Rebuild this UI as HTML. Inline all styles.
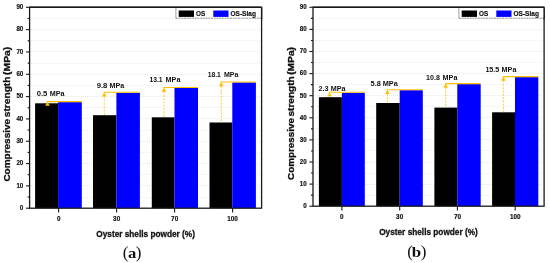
<!DOCTYPE html>
<html lang="en"><head><meta charset="utf-8"><title>Compressive strength</title>
<style>
html,body{margin:0;padding:0;background:#fff;}
svg{display:block;}
svg text{font-family:'Liberation Sans', Arial, sans-serif;fill:#111;}
svg .b{stroke:#111;stroke-width:0.2px;}
svg .c{stroke:#111;stroke-width:0.3px;}
</style></head>
<body>
<svg width="550" height="263" viewBox="0 0 550 263">
<rect width="550" height="263" fill="#fff"/>
<line x1="31" x2="260.6" y1="197.5" y2="197.5" stroke="#ededed" stroke-width="1" stroke-dasharray="1 1"/>
<line x1="31" x2="260.6" y1="185.5" y2="185.5" stroke="#e8e8e8" stroke-width="1" stroke-dasharray="1 1"/>
<line x1="31" x2="260.6" y1="174.5" y2="174.5" stroke="#ededed" stroke-width="1" stroke-dasharray="1 1"/>
<line x1="31" x2="260.6" y1="163.5" y2="163.5" stroke="#e8e8e8" stroke-width="1" stroke-dasharray="1 1"/>
<line x1="31" x2="260.6" y1="152.5" y2="152.5" stroke="#ededed" stroke-width="1" stroke-dasharray="1 1"/>
<line x1="31" x2="260.6" y1="141.5" y2="141.5" stroke="#e8e8e8" stroke-width="1" stroke-dasharray="1 1"/>
<line x1="31" x2="260.6" y1="130.5" y2="130.5" stroke="#ededed" stroke-width="1" stroke-dasharray="1 1"/>
<line x1="31" x2="260.6" y1="118.5" y2="118.5" stroke="#e8e8e8" stroke-width="1" stroke-dasharray="1 1"/>
<line x1="31" x2="260.6" y1="107.5" y2="107.5" stroke="#ededed" stroke-width="1" stroke-dasharray="1 1"/>
<line x1="31" x2="260.6" y1="96.5" y2="96.5" stroke="#e8e8e8" stroke-width="1" stroke-dasharray="1 1"/>
<line x1="31" x2="260.6" y1="85.5" y2="85.5" stroke="#ededed" stroke-width="1" stroke-dasharray="1 1"/>
<line x1="31" x2="260.6" y1="74.5" y2="74.5" stroke="#e8e8e8" stroke-width="1" stroke-dasharray="1 1"/>
<line x1="31" x2="260.6" y1="63.5" y2="63.5" stroke="#ededed" stroke-width="1" stroke-dasharray="1 1"/>
<line x1="31" x2="260.6" y1="51.5" y2="51.5" stroke="#e8e8e8" stroke-width="1" stroke-dasharray="1 1"/>
<line x1="31" x2="260.6" y1="40.5" y2="40.5" stroke="#ededed" stroke-width="1" stroke-dasharray="1 1"/>
<line x1="31" x2="260.6" y1="29.5" y2="29.5" stroke="#e8e8e8" stroke-width="1" stroke-dasharray="1 1"/>
<line x1="31" x2="260.6" y1="18.5" y2="18.5" stroke="#ededed" stroke-width="1" stroke-dasharray="1 1"/>
<rect x="35.1" y="103.3" width="23.0" height="104.9" fill="#000000"/>
<rect x="58.1" y="102.1" width="23.7" height="106.1" fill="#0000ff"/>
<rect x="93.0" y="115.2" width="23.4" height="93.0" fill="#000000"/>
<rect x="116.4" y="92.8" width="23.5" height="115.4" fill="#0000ff"/>
<rect x="151.8" y="117.3" width="22.7" height="90.9" fill="#000000"/>
<rect x="174.5" y="88.0" width="23.5" height="120.2" fill="#0000ff"/>
<rect x="209.5" y="122.5" width="22.8" height="85.7" fill="#000000"/>
<rect x="232.3" y="82.5" width="23.6" height="125.7" fill="#0000ff"/>
<rect x="29.6" y="7.3" width="232.0" height="200.9" fill="none" stroke="#1a1a1a" stroke-width="1.3"/>
<line x1="26.0" x2="29.6" y1="208.20" y2="208.20" stroke="#1a1a1a" stroke-width="1.1"/>
<line x1="27.6" x2="29.6" y1="197.04" y2="197.04" stroke="#1a1a1a" stroke-width="1.1"/>
<line x1="26.0" x2="29.6" y1="185.88" y2="185.88" stroke="#1a1a1a" stroke-width="1.1"/>
<line x1="27.6" x2="29.6" y1="174.72" y2="174.72" stroke="#1a1a1a" stroke-width="1.1"/>
<line x1="26.0" x2="29.6" y1="163.56" y2="163.56" stroke="#1a1a1a" stroke-width="1.1"/>
<line x1="27.6" x2="29.6" y1="152.39" y2="152.39" stroke="#1a1a1a" stroke-width="1.1"/>
<line x1="26.0" x2="29.6" y1="141.23" y2="141.23" stroke="#1a1a1a" stroke-width="1.1"/>
<line x1="27.6" x2="29.6" y1="130.07" y2="130.07" stroke="#1a1a1a" stroke-width="1.1"/>
<line x1="26.0" x2="29.6" y1="118.91" y2="118.91" stroke="#1a1a1a" stroke-width="1.1"/>
<line x1="27.6" x2="29.6" y1="107.75" y2="107.75" stroke="#1a1a1a" stroke-width="1.1"/>
<line x1="26.0" x2="29.6" y1="96.59" y2="96.59" stroke="#1a1a1a" stroke-width="1.1"/>
<line x1="27.6" x2="29.6" y1="85.43" y2="85.43" stroke="#1a1a1a" stroke-width="1.1"/>
<line x1="26.0" x2="29.6" y1="74.27" y2="74.27" stroke="#1a1a1a" stroke-width="1.1"/>
<line x1="27.6" x2="29.6" y1="63.11" y2="63.11" stroke="#1a1a1a" stroke-width="1.1"/>
<line x1="26.0" x2="29.6" y1="51.94" y2="51.94" stroke="#1a1a1a" stroke-width="1.1"/>
<line x1="27.6" x2="29.6" y1="40.78" y2="40.78" stroke="#1a1a1a" stroke-width="1.1"/>
<line x1="26.0" x2="29.6" y1="29.62" y2="29.62" stroke="#1a1a1a" stroke-width="1.1"/>
<line x1="27.6" x2="29.6" y1="18.46" y2="18.46" stroke="#1a1a1a" stroke-width="1.1"/>
<line x1="26.0" x2="29.6" y1="7.30" y2="7.30" stroke="#1a1a1a" stroke-width="1.1"/>
<text class="b" x="23.3" y="210.05" text-anchor="end" font-size="7.6" font-weight="bold" textLength="3.5" lengthAdjust="spacingAndGlyphs">0</text>
<text class="b" x="23.3" y="187.73" text-anchor="end" font-size="7.6" font-weight="bold" textLength="6.9" lengthAdjust="spacingAndGlyphs">10</text>
<text class="b" x="23.3" y="165.41" text-anchor="end" font-size="7.6" font-weight="bold" textLength="6.9" lengthAdjust="spacingAndGlyphs">20</text>
<text class="b" x="23.3" y="143.08" text-anchor="end" font-size="7.6" font-weight="bold" textLength="6.9" lengthAdjust="spacingAndGlyphs">30</text>
<text class="b" x="23.3" y="120.76" text-anchor="end" font-size="7.6" font-weight="bold" textLength="6.9" lengthAdjust="spacingAndGlyphs">40</text>
<text class="b" x="23.3" y="98.44" text-anchor="end" font-size="7.6" font-weight="bold" textLength="6.9" lengthAdjust="spacingAndGlyphs">50</text>
<text class="b" x="23.3" y="76.12" text-anchor="end" font-size="7.6" font-weight="bold" textLength="6.9" lengthAdjust="spacingAndGlyphs">60</text>
<text class="b" x="23.3" y="53.79" text-anchor="end" font-size="7.6" font-weight="bold" textLength="6.9" lengthAdjust="spacingAndGlyphs">70</text>
<text class="b" x="23.3" y="31.47" text-anchor="end" font-size="7.6" font-weight="bold" textLength="6.9" lengthAdjust="spacingAndGlyphs">80</text>
<text class="b" x="23.3" y="9.15" text-anchor="end" font-size="7.6" font-weight="bold" textLength="6.9" lengthAdjust="spacingAndGlyphs">90</text>
<line x1="58.6" x2="58.6" y1="208.2" y2="212.5" stroke="#1a1a1a" stroke-width="1.1"/>
<text class="b" x="56.9" y="221" font-size="7.6" font-weight="bold" textLength="3.5" lengthAdjust="spacingAndGlyphs">0</text>
<line x1="116.6" x2="116.6" y1="208.2" y2="212.5" stroke="#1a1a1a" stroke-width="1.1"/>
<text class="b" x="113.1" y="221" font-size="7.6" font-weight="bold" textLength="7.1" lengthAdjust="spacingAndGlyphs">30</text>
<line x1="174.6" x2="174.6" y1="208.2" y2="212.5" stroke="#1a1a1a" stroke-width="1.1"/>
<text class="b" x="171.1" y="221" font-size="7.6" font-weight="bold" textLength="7.1" lengthAdjust="spacingAndGlyphs">70</text>
<line x1="232.6" x2="232.6" y1="208.2" y2="212.5" stroke="#1a1a1a" stroke-width="1.1"/>
<text class="b" x="227.3" y="221" font-size="7.6" font-weight="bold" textLength="10.6" lengthAdjust="spacingAndGlyphs">100</text>
<line x1="46.9" x2="81.9" y1="101.6" y2="101.6" stroke="#ffc000" stroke-width="1.1"/>
<polygon points="47.5,101.6 45.2,105.8 49.8,105.8" fill="#ffc000"/>
<line x1="103.7" x2="139.9" y1="92.3" y2="92.3" stroke="#ffc000" stroke-width="1.1"/>
<line x1="104.3" x2="104.3" y1="96.3" y2="115.2" stroke="#ffc000" stroke-width="0.8" stroke-dasharray="2 1.3"/>
<polygon points="104.3,92.3 102.0,96.5 106.6,96.5" fill="#ffc000"/>
<line x1="163.4" x2="198.0" y1="87.5" y2="87.5" stroke="#ffc000" stroke-width="1.1"/>
<line x1="164.0" x2="164.0" y1="91.5" y2="117.3" stroke="#ffc000" stroke-width="0.8" stroke-dasharray="2 1.3"/>
<polygon points="164.0,87.5 161.7,91.7 166.3,91.7" fill="#ffc000"/>
<line x1="220.6" x2="255.9" y1="82.0" y2="82.0" stroke="#ffc000" stroke-width="1.1"/>
<line x1="221.2" x2="221.2" y1="86.0" y2="122.5" stroke="#ffc000" stroke-width="0.8" stroke-dasharray="2 1.3"/>
<polygon points="221.2,82.0 218.9,86.2 223.5,86.2" fill="#ffc000"/>
<text y="96.0" font-size="7.6" font-weight="bold"><tspan x="36.7" textLength="10.7" lengthAdjust="spacingAndGlyphs">0.5</tspan> <tspan x="49.7" textLength="14.8" lengthAdjust="spacingAndGlyphs">MPa</tspan></text>
<text y="88.0" font-size="7.6" font-weight="bold"><tspan x="96.7" textLength="10.7" lengthAdjust="spacingAndGlyphs">9.8</tspan> <tspan x="109.6" textLength="14.7" lengthAdjust="spacingAndGlyphs">MPa</tspan></text>
<text y="82.0" font-size="7.6" font-weight="bold"><tspan x="149.4" textLength="13.1" lengthAdjust="spacingAndGlyphs">13.1</tspan> <tspan x="165.6" textLength="14.8" lengthAdjust="spacingAndGlyphs">MPa</tspan></text>
<text y="77.0" font-size="7.6" font-weight="bold"><tspan x="207.7" textLength="13.2" lengthAdjust="spacingAndGlyphs">18.1</tspan> <tspan x="224.0" textLength="14.5" lengthAdjust="spacingAndGlyphs">MPa</tspan></text>
<rect x="175.9" y="7.3" width="85.7" height="10.9" fill="#fff"/>
<line x1="175.9" x2="175.9" y1="7.3" y2="18.2" stroke="#777" stroke-width="0.7"/>
<line x1="175.9" x2="261.6" y1="18.2" y2="18.2" stroke="#666" stroke-width="0.7" stroke-dasharray="2 0.7"/>
<line x1="29.6" x2="261.6" y1="7.3" y2="7.3" stroke="#1a1a1a" stroke-width="1.4"/>
<line x1="261.6" x2="261.6" y1="7.3" y2="19.3" stroke="#1a1a1a" stroke-width="1.4"/>
<rect x="178.7" y="10.5" width="15.3" height="6.4" fill="#000"/>
<text class="b" x="196.0" y="16.4" font-size="7.9" font-weight="bold" textLength="9.2" lengthAdjust="spacingAndGlyphs">OS</text>
<rect x="213.3" y="10.5" width="15.2" height="6.4" fill="#0000ff"/>
<text class="b" x="230.5" y="16.4" font-size="7.9" font-weight="bold" textLength="25.4" lengthAdjust="spacingAndGlyphs">OS-Slag</text>
<text class="c" x="96.3" y="237" font-size="9" font-weight="bold" textLength="98.6" lengthAdjust="spacingAndGlyphs">Oyster shells powder (%)</text>
<text class="c" transform="translate(10.0,181.6) rotate(-90)" font-size="8.80" font-weight="bold"><tspan x="0" textLength="62.7" lengthAdjust="spacingAndGlyphs">Compressive</tspan> <tspan x="64.4" textLength="40.7" lengthAdjust="spacingAndGlyphs">strength</tspan> <tspan x="106.7" textLength="28.2" lengthAdjust="spacingAndGlyphs">(MPa)</tspan></text>
<line x1="315" x2="543.1" y1="195.5" y2="195.5" stroke="#ededed" stroke-width="1" stroke-dasharray="1 1"/>
<line x1="315" x2="543.1" y1="184.5" y2="184.5" stroke="#e8e8e8" stroke-width="1" stroke-dasharray="1 1"/>
<line x1="315" x2="543.1" y1="173.5" y2="173.5" stroke="#ededed" stroke-width="1" stroke-dasharray="1 1"/>
<line x1="315" x2="543.1" y1="162.5" y2="162.5" stroke="#e8e8e8" stroke-width="1" stroke-dasharray="1 1"/>
<line x1="315" x2="543.1" y1="150.5" y2="150.5" stroke="#ededed" stroke-width="1" stroke-dasharray="1 1"/>
<line x1="315" x2="543.1" y1="139.5" y2="139.5" stroke="#e8e8e8" stroke-width="1" stroke-dasharray="1 1"/>
<line x1="315" x2="543.1" y1="128.5" y2="128.5" stroke="#ededed" stroke-width="1" stroke-dasharray="1 1"/>
<line x1="315" x2="543.1" y1="117.5" y2="117.5" stroke="#e8e8e8" stroke-width="1" stroke-dasharray="1 1"/>
<line x1="315" x2="543.1" y1="106.5" y2="106.5" stroke="#ededed" stroke-width="1" stroke-dasharray="1 1"/>
<line x1="315" x2="543.1" y1="95.5" y2="95.5" stroke="#e8e8e8" stroke-width="1" stroke-dasharray="1 1"/>
<line x1="315" x2="543.1" y1="84.5" y2="84.5" stroke="#ededed" stroke-width="1" stroke-dasharray="1 1"/>
<line x1="315" x2="543.1" y1="73.5" y2="73.5" stroke="#e8e8e8" stroke-width="1" stroke-dasharray="1 1"/>
<line x1="315" x2="543.1" y1="62.5" y2="62.5" stroke="#ededed" stroke-width="1" stroke-dasharray="1 1"/>
<line x1="315" x2="543.1" y1="51.5" y2="51.5" stroke="#e8e8e8" stroke-width="1" stroke-dasharray="1 1"/>
<line x1="315" x2="543.1" y1="40.5" y2="40.5" stroke="#ededed" stroke-width="1" stroke-dasharray="1 1"/>
<line x1="315" x2="543.1" y1="29.5" y2="29.5" stroke="#e8e8e8" stroke-width="1" stroke-dasharray="1 1"/>
<line x1="315" x2="543.1" y1="18.5" y2="18.5" stroke="#ededed" stroke-width="1" stroke-dasharray="1 1"/>
<rect x="318.9" y="97.2" width="23.0" height="109.0" fill="#000000"/>
<rect x="341.9" y="92.8" width="22.9" height="113.4" fill="#0000ff"/>
<rect x="376.2" y="103.0" width="23.5" height="103.2" fill="#000000"/>
<rect x="399.7" y="90.2" width="23.1" height="116.0" fill="#0000ff"/>
<rect x="434.4" y="107.6" width="22.9" height="98.6" fill="#000000"/>
<rect x="457.3" y="84.1" width="23.4" height="122.1" fill="#0000ff"/>
<rect x="492.1" y="112.3" width="22.9" height="93.9" fill="#000000"/>
<rect x="515.0" y="77.1" width="23.3" height="129.1" fill="#0000ff"/>
<rect x="313.0" y="7.3" width="231.1" height="198.9" fill="none" stroke="#1a1a1a" stroke-width="1.3"/>
<line x1="309.4" x2="313.0" y1="206.20" y2="206.20" stroke="#1a1a1a" stroke-width="1.1"/>
<line x1="311.0" x2="313.0" y1="195.15" y2="195.15" stroke="#1a1a1a" stroke-width="1.1"/>
<line x1="309.4" x2="313.0" y1="184.10" y2="184.10" stroke="#1a1a1a" stroke-width="1.1"/>
<line x1="311.0" x2="313.0" y1="173.05" y2="173.05" stroke="#1a1a1a" stroke-width="1.1"/>
<line x1="309.4" x2="313.0" y1="162.00" y2="162.00" stroke="#1a1a1a" stroke-width="1.1"/>
<line x1="311.0" x2="313.0" y1="150.95" y2="150.95" stroke="#1a1a1a" stroke-width="1.1"/>
<line x1="309.4" x2="313.0" y1="139.90" y2="139.90" stroke="#1a1a1a" stroke-width="1.1"/>
<line x1="311.0" x2="313.0" y1="128.85" y2="128.85" stroke="#1a1a1a" stroke-width="1.1"/>
<line x1="309.4" x2="313.0" y1="117.80" y2="117.80" stroke="#1a1a1a" stroke-width="1.1"/>
<line x1="311.0" x2="313.0" y1="106.75" y2="106.75" stroke="#1a1a1a" stroke-width="1.1"/>
<line x1="309.4" x2="313.0" y1="95.70" y2="95.70" stroke="#1a1a1a" stroke-width="1.1"/>
<line x1="311.0" x2="313.0" y1="84.65" y2="84.65" stroke="#1a1a1a" stroke-width="1.1"/>
<line x1="309.4" x2="313.0" y1="73.60" y2="73.60" stroke="#1a1a1a" stroke-width="1.1"/>
<line x1="311.0" x2="313.0" y1="62.55" y2="62.55" stroke="#1a1a1a" stroke-width="1.1"/>
<line x1="309.4" x2="313.0" y1="51.50" y2="51.50" stroke="#1a1a1a" stroke-width="1.1"/>
<line x1="311.0" x2="313.0" y1="40.45" y2="40.45" stroke="#1a1a1a" stroke-width="1.1"/>
<line x1="309.4" x2="313.0" y1="29.40" y2="29.40" stroke="#1a1a1a" stroke-width="1.1"/>
<line x1="311.0" x2="313.0" y1="18.35" y2="18.35" stroke="#1a1a1a" stroke-width="1.1"/>
<line x1="309.4" x2="313.0" y1="7.30" y2="7.30" stroke="#1a1a1a" stroke-width="1.1"/>
<text class="b" x="306.7" y="208.05" text-anchor="end" font-size="7.6" font-weight="bold" textLength="3.5" lengthAdjust="spacingAndGlyphs">0</text>
<text class="b" x="306.7" y="185.95" text-anchor="end" font-size="7.6" font-weight="bold" textLength="6.9" lengthAdjust="spacingAndGlyphs">10</text>
<text class="b" x="306.7" y="163.85" text-anchor="end" font-size="7.6" font-weight="bold" textLength="6.9" lengthAdjust="spacingAndGlyphs">20</text>
<text class="b" x="306.7" y="141.75" text-anchor="end" font-size="7.6" font-weight="bold" textLength="6.9" lengthAdjust="spacingAndGlyphs">30</text>
<text class="b" x="306.7" y="119.65" text-anchor="end" font-size="7.6" font-weight="bold" textLength="6.9" lengthAdjust="spacingAndGlyphs">40</text>
<text class="b" x="306.7" y="97.55" text-anchor="end" font-size="7.6" font-weight="bold" textLength="6.9" lengthAdjust="spacingAndGlyphs">50</text>
<text class="b" x="306.7" y="75.45" text-anchor="end" font-size="7.6" font-weight="bold" textLength="6.9" lengthAdjust="spacingAndGlyphs">60</text>
<text class="b" x="306.7" y="53.35" text-anchor="end" font-size="7.6" font-weight="bold" textLength="6.9" lengthAdjust="spacingAndGlyphs">70</text>
<text class="b" x="306.7" y="31.25" text-anchor="end" font-size="7.6" font-weight="bold" textLength="6.9" lengthAdjust="spacingAndGlyphs">80</text>
<text class="b" x="306.7" y="9.15" text-anchor="end" font-size="7.6" font-weight="bold" textLength="6.9" lengthAdjust="spacingAndGlyphs">90</text>
<line x1="341.9" x2="341.9" y1="206.2" y2="210.5" stroke="#1a1a1a" stroke-width="1.1"/>
<text class="b" x="340.1" y="219" font-size="7.6" font-weight="bold" textLength="3.5" lengthAdjust="spacingAndGlyphs">0</text>
<line x1="399.7" x2="399.7" y1="206.2" y2="210.5" stroke="#1a1a1a" stroke-width="1.1"/>
<text class="b" x="396.1" y="219" font-size="7.6" font-weight="bold" textLength="7.1" lengthAdjust="spacingAndGlyphs">30</text>
<line x1="457.4" x2="457.4" y1="206.2" y2="210.5" stroke="#1a1a1a" stroke-width="1.1"/>
<text class="b" x="453.9" y="219" font-size="7.6" font-weight="bold" textLength="7.1" lengthAdjust="spacingAndGlyphs">70</text>
<line x1="515.2" x2="515.2" y1="206.2" y2="210.5" stroke="#1a1a1a" stroke-width="1.1"/>
<text class="b" x="509.9" y="219" font-size="7.6" font-weight="bold" textLength="10.6" lengthAdjust="spacingAndGlyphs">100</text>
<line x1="328.9" x2="364.8" y1="92.3" y2="92.3" stroke="#ffc000" stroke-width="1.1"/>
<polygon points="329.5,92.3 327.2,96.5 331.8,96.5" fill="#ffc000"/>
<line x1="386.8" x2="422.9" y1="89.7" y2="89.7" stroke="#ffc000" stroke-width="1.1"/>
<line x1="387.4" x2="387.4" y1="93.7" y2="103.0" stroke="#ffc000" stroke-width="0.8" stroke-dasharray="2 1.3"/>
<polygon points="387.4,89.7 385.1,93.9 389.7,93.9" fill="#ffc000"/>
<line x1="445.1" x2="480.6" y1="83.6" y2="83.6" stroke="#ffc000" stroke-width="1.1"/>
<line x1="445.7" x2="445.7" y1="87.6" y2="107.6" stroke="#ffc000" stroke-width="0.8" stroke-dasharray="2 1.3"/>
<polygon points="445.7,83.6 443.4,87.8 448.0,87.8" fill="#ffc000"/>
<line x1="502.7" x2="538.3" y1="76.6" y2="76.6" stroke="#ffc000" stroke-width="1.1"/>
<line x1="503.3" x2="503.3" y1="80.6" y2="112.3" stroke="#ffc000" stroke-width="0.8" stroke-dasharray="2 1.3"/>
<polygon points="503.3,76.6 501.0,80.8 505.6,80.8" fill="#ffc000"/>
<text y="91.0" font-size="7.6" font-weight="bold"><tspan x="318.4" textLength="10.1" lengthAdjust="spacingAndGlyphs">2.3</tspan> <tspan x="330.8" textLength="14.8" lengthAdjust="spacingAndGlyphs">MPa</tspan></text>
<text y="86.0" font-size="7.6" font-weight="bold"><tspan x="370.6" textLength="10.2" lengthAdjust="spacingAndGlyphs">5.8</tspan> <tspan x="382.8" textLength="15.0" lengthAdjust="spacingAndGlyphs">MPa</tspan></text>
<text y="80.0" font-size="7.6" font-weight="bold"><tspan x="426.1" textLength="13.8" lengthAdjust="spacingAndGlyphs">10.8</tspan> <tspan x="442.6" textLength="14.8" lengthAdjust="spacingAndGlyphs">MPa</tspan></text>
<text y="72.0" font-size="7.6" font-weight="bold"><tspan x="485.4" textLength="13.9" lengthAdjust="spacingAndGlyphs">15.5</tspan> <tspan x="501.6" textLength="14.8" lengthAdjust="spacingAndGlyphs">MPa</tspan></text>
<rect x="458.9" y="7.3" width="85.2" height="10.9" fill="#fff"/>
<line x1="458.9" x2="458.9" y1="7.3" y2="18.2" stroke="#777" stroke-width="0.7"/>
<line x1="458.9" x2="544.1" y1="18.2" y2="18.2" stroke="#666" stroke-width="0.7" stroke-dasharray="2 0.7"/>
<line x1="313.0" x2="544.1" y1="7.3" y2="7.3" stroke="#1a1a1a" stroke-width="1.4"/>
<line x1="544.1" x2="544.1" y1="7.3" y2="19.3" stroke="#1a1a1a" stroke-width="1.4"/>
<rect x="461.7" y="10.5" width="15.3" height="6.4" fill="#000"/>
<text class="b" x="479.0" y="16.4" font-size="7.9" font-weight="bold" textLength="9.2" lengthAdjust="spacingAndGlyphs">OS</text>
<rect x="496.3" y="10.5" width="15.2" height="6.4" fill="#0000ff"/>
<text class="b" x="513.5" y="16.4" font-size="7.9" font-weight="bold" textLength="25.4" lengthAdjust="spacingAndGlyphs">OS-Slag</text>
<text class="c" x="379.2" y="235" font-size="9" font-weight="bold" textLength="98.6" lengthAdjust="spacingAndGlyphs">Oyster shells powder (%)</text>
<text class="c" transform="translate(293.9,179.9) rotate(-90)" font-size="8.67" font-weight="bold"><tspan x="0" textLength="61.8" lengthAdjust="spacingAndGlyphs">Compressive</tspan> <tspan x="63.4" textLength="40.1" lengthAdjust="spacingAndGlyphs">strength</tspan> <tspan x="105.1" textLength="27.8" lengthAdjust="spacingAndGlyphs">(MPa)</tspan></text>
<text y="258" style="font-family:Liberation Serif, DejaVu Serif, serif" font-size="17"><tspan x="122.85">(</tspan><tspan x="128.1" font-size="15" font-weight="bold" textLength="8.3" lengthAdjust="spacingAndGlyphs">a</tspan><tspan x="135.7">)</tspan></text>
<text y="257" style="font-family:Liberation Serif, DejaVu Serif, serif" font-size="17"><tspan x="407.25">(</tspan><tspan x="411.7" font-size="15" font-weight="bold" textLength="9.4" lengthAdjust="spacingAndGlyphs">b</tspan><tspan x="420.8">)</tspan></text>
</svg>
</body></html>
